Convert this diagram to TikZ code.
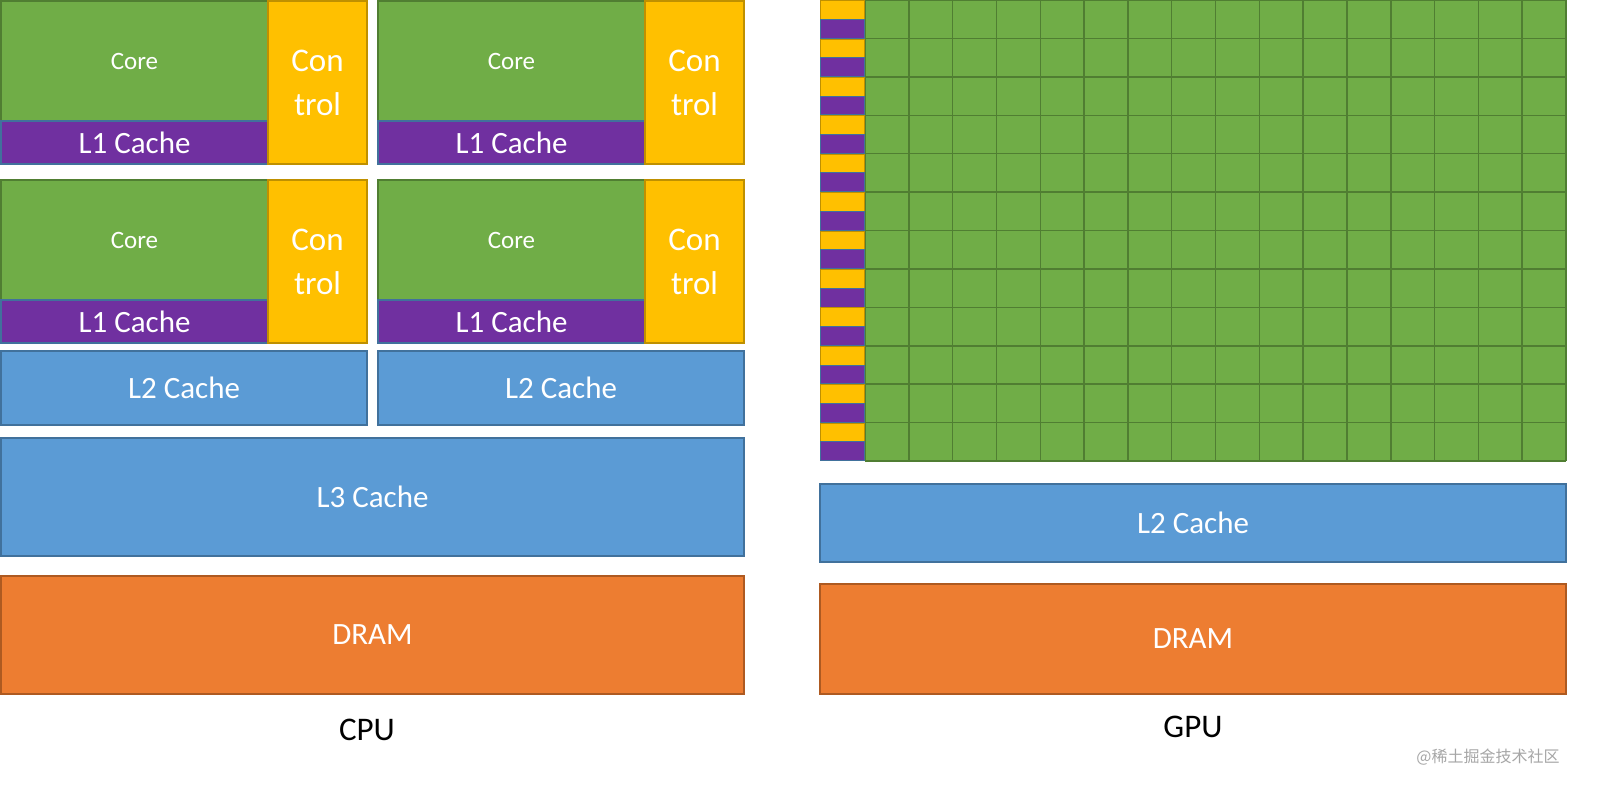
\documentclass[tikz,border=0pt]{standalone}
\usepackage{fontspec}
\setmainfont{Carlito}
\newfontfamily\cjk{Noto Sans CJK SC}
\definecolor{gr}{HTML}{70AD47}\definecolor{grb}{HTML}{507E32}
\definecolor{pu}{HTML}{7030A0}\definecolor{pub}{HTML}{41719C}
\definecolor{ye}{HTML}{FFC000}\definecolor{yeb}{HTML}{BF9000}
\definecolor{bl}{HTML}{5B9BD5}\definecolor{blb}{HTML}{41719C}
\definecolor{or}{HTML}{ED7D31}\definecolor{orb}{HTML}{AE5A21}
\begin{document}
\begin{tikzpicture}[x=1pt,y=-1pt,
 box/.style={draw,line width=1.2pt,text=white,font=\fontsize{31}{33}\selectfont},
 core/.style={box,fill=gr,draw=grb},
 lone/.style={box,fill=pu,draw=pub},
 ctrl/.style={box,fill=ye,draw=yeb,align=center},
 cache/.style={box,fill=bl,draw=blb},
 dram/.style={box,fill=or,draw=orb}]
\useasboundingbox (0,0) rectangle (1612,796);
\foreach \bx/\by/\n in {0/0/a,377/0/b,0/179/c,377/179/d}{
 \path[core] (\bx+1,\by+1) rectangle (\bx+268,\by+121) node[midway,text=white,font=\fontsize{25}{27}\selectfont] (core\n) {Core};
 \path[lone] (\bx+1,\by+121) rectangle (\bx+268,\by+164) node[midway,text=white] (lone\n) {L1 Cache};
 \path[ctrl] (\bx+268,\by+1) rectangle (\bx+367,\by+164) node[midway,text=white,align=center,font=\fontsize{33}{44}\selectfont] (ctrl\n) {Con\\trol};
}
\path[cache] (1,351) rectangle (367,425) node[midway,text=white] (l2a) {L2 Cache};
\path[cache] (378,351) rectangle (744,425) node[midway,text=white] (l2b) {L2 Cache};
\path[cache] (1,438) rectangle (744,556) node[midway,text=white] (l3) {L3 Cache};
\path[dram] (1,576) rectangle (744,694) node[midway,text=white] (dram1) {DRAM};
\node[font=\fontsize{33}{35}\selectfont] (cpu) at (367,730) {CPU};
% GPU
\fill[gr] (865,0) rectangle (1566,461);
\foreach \i in {0,...,16}{\draw[grb,line width=1.5pt] (865+\i*43.8125,0) -- (865+\i*43.8125,461);}
\foreach \j in {0,...,12}{\draw[grb,line width=1.5pt] (865,\j*38.4167) -- (1566,\j*38.4167);}
\foreach \j in {0,...,11}{
 \fill[ye,draw=yeb,line width=0.8pt] (820.5,\j*38.4167+0.5) rectangle (864,\j*38.4167+19.2);
 \fill[pu,draw=pub,line width=0.8pt] (820.5,\j*38.4167+19.2) rectangle (864,\j*38.4167+38);
}
\path[cache] (820,484) rectangle (1566,562) node[midway,text=white] (gl2) {L2 Cache};
\path[dram] (820,584) rectangle (1566,694) node[midway,text=white] (dram2) {DRAM};
\node[font=\fontsize{33}{35}\selectfont] (gpu) at (1193,727) {GPU};
\node[font=\cjk\fontsize{16}{17}\selectfont,text=gray!70] (wm) at (1488,757) {@稀土掘金技术社区};
\end{tikzpicture}
\end{document}
